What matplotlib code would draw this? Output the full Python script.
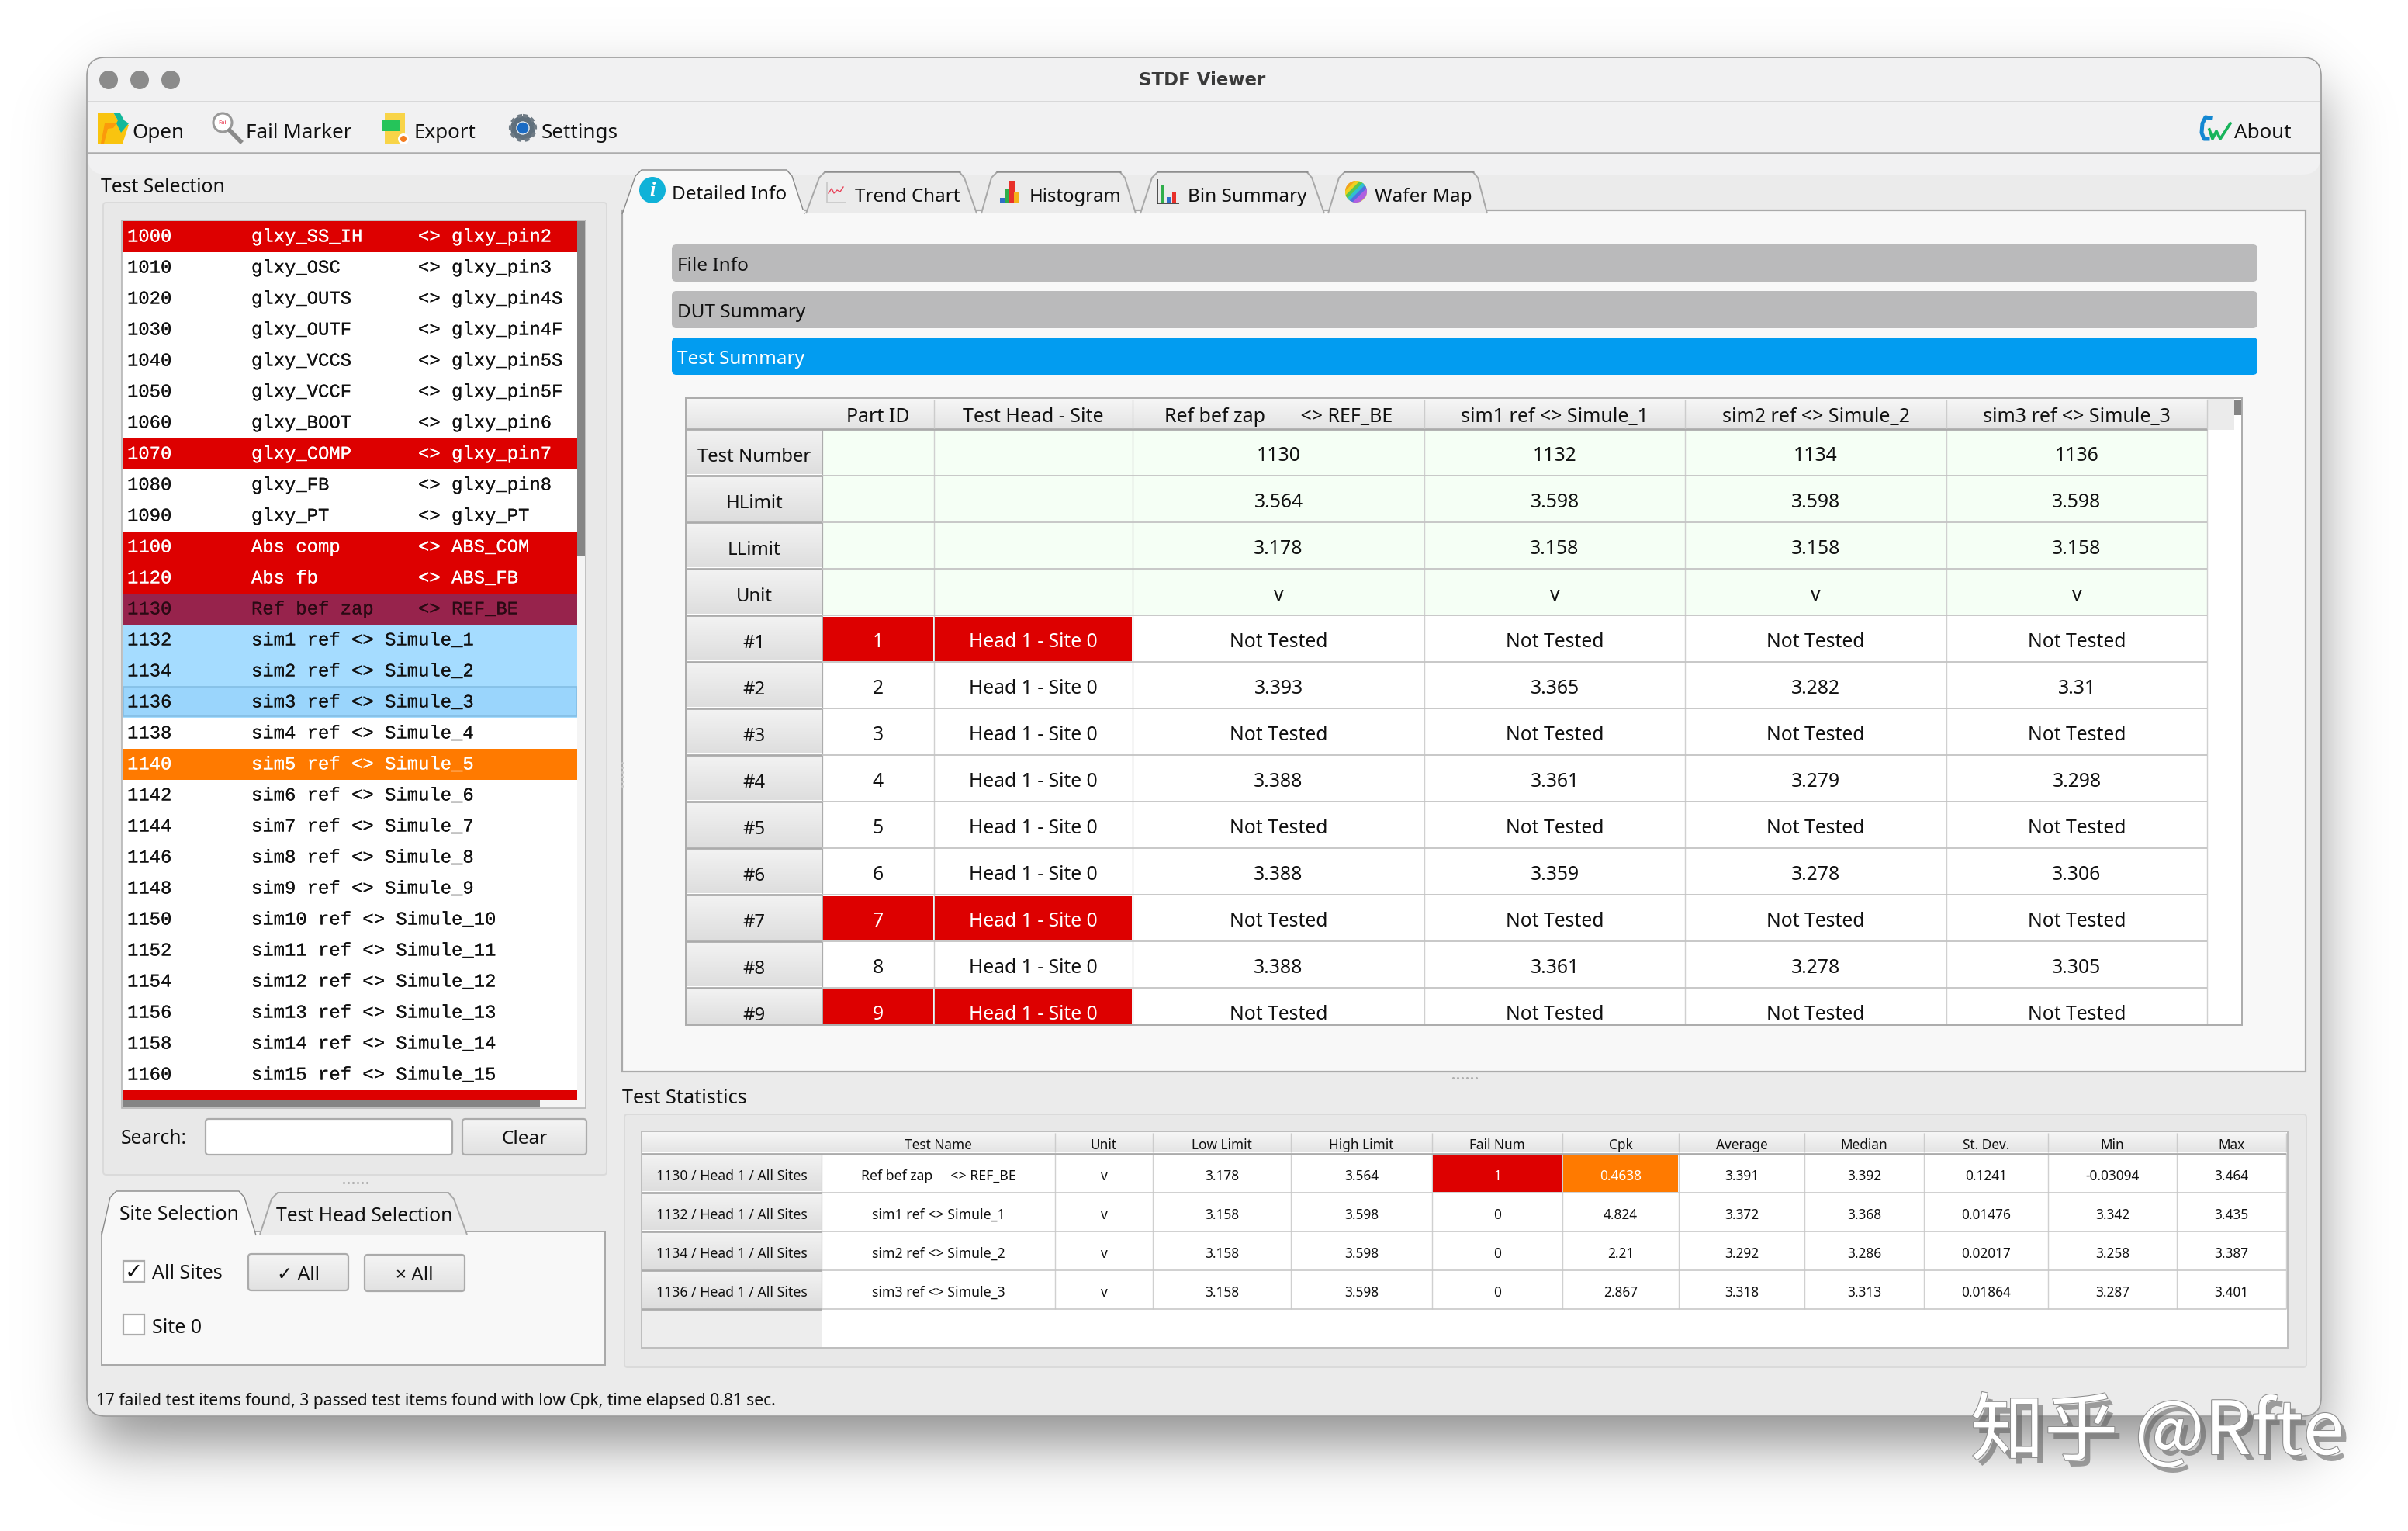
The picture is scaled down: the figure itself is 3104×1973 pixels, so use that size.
import numpy as np
import matplotlib
matplotlib.use("Agg")
import matplotlib.pyplot as plt
from matplotlib.patches import Rectangle, FancyBboxPatch, Polygon, Circle
from matplotlib.colors import LinearSegmentedColormap
import matplotlib.patheffects as pe

plt.rcParams['font.family'] = ['Noto Sans', 'DejaVu Sans']

# ---------- left list
list_ids = [1000, 1010, 1020, 1030, 1040, 1050, 1060, 1070, 1080, 1090, 1100, 1120, 1130,
            1132, 1134, 1136, 1138, 1140, 1142, 1144, 1146, 1148, 1150, 1152, 1154, 1156, 1158, 1160]
list_names = ['glxy_SS_IH     <> glxy_pin2', 'glxy_OSC       <> glxy_pin3', 'glxy_OUTS      <> glxy_pin4S',
              'glxy_OUTF      <> glxy_pin4F', 'glxy_VCCS      <> glxy_pin5S', 'glxy_VCCF      <> glxy_pin5F',
              'glxy_BOOT      <> glxy_pin6', 'glxy_COMP      <> glxy_pin7', 'glxy_FB        <> glxy_pin8',
              'glxy_PT        <> glxy_PT', 'Abs comp       <> ABS_COM', 'Abs fb         <> ABS_FB',
              'Ref bef zap    <> REF_BE', 'sim1 ref <> Simule_1', 'sim2 ref <> Simule_2', 'sim3 ref <> Simule_3',
              'sim4 ref <> Simule_4', 'sim5 ref <> Simule_5', 'sim6 ref <> Simule_6', 'sim7 ref <> Simule_7',
              'sim8 ref <> Simule_8', 'sim9 ref <> Simule_9', 'sim10 ref <> Simule_10', 'sim11 ref <> Simule_11',
              'sim12 ref <> Simule_12', 'sim13 ref <> Simule_13', 'sim14 ref <> Simule_14', 'sim15 ref <> Simule_15']
failed_ids = [1000, 1070, 1100, 1120]
selected_ids = [1132, 1134, 1136]
low_cpk_ids = [1140]
current_id = 1130

# ---------- detail table
detail_cols = ['Part ID', 'Test Head - Site', 'Ref bef zap       <> REF_BE', 'sim1 ref <> Simule_1',
               'sim2 ref <> Simule_2', 'sim3 ref <> Simule_3']
detail_rows = ['Test Number', 'HLimit', 'LLimit', 'Unit', '#1', '#2', '#3', '#4', '#5', '#6', '#7', '#8', '#9']
NT = 'Not Tested'
HS = 'Head 1 - Site 0'
detail_vals = [
    ['', '', '1130', '1132', '1134', '1136'],
    ['', '', '3.564', '3.598', '3.598', '3.598'],
    ['', '', '3.178', '3.158', '3.158', '3.158'],
    ['', '', 'v', 'v', 'v', 'v'],
    ['1', HS, NT, NT, NT, NT],
    ['2', HS, '3.393', '3.365', '3.282', '3.31'],
    ['3', HS, NT, NT, NT, NT],
    ['4', HS, '3.388', '3.361', '3.279', '3.298'],
    ['5', HS, NT, NT, NT, NT],
    ['6', HS, '3.388', '3.359', '3.278', '3.306'],
    ['7', HS, NT, NT, NT, NT],
    ['8', HS, '3.388', '3.361', '3.278', '3.305'],
    ['9', HS, NT, NT, NT, NT],
]
failed_parts = ['#1', '#7', '#9']

# ---------- statistics table
stat_cols = ['Test Name', 'Unit', 'Low Limit', 'High Limit', 'Fail Num', 'Cpk', 'Average', 'Median', 'St. Dev.', 'Min', 'Max']
stat_rows = ['1130 / Head 1 / All Sites', '1132 / Head 1 / All Sites', '1134 / Head 1 / All Sites', '1136 / Head 1 / All Sites']
stat_vals = [
    ['Ref bef zap     <> REF_BE', 'v', '3.178', '3.564', '1', '0.4638', '3.391', '3.392', '0.1241', '-0.03094', '3.464'],
    ['sim1 ref <> Simule_1', 'v', '3.158', '3.598', '0', '4.824', '3.372', '3.368', '0.01476', '3.342', '3.435'],
    ['sim2 ref <> Simule_2', 'v', '3.158', '3.598', '0', '2.21', '3.292', '3.286', '0.02017', '3.258', '3.387'],
    ['sim3 ref <> Simule_3', 'v', '3.158', '3.598', '0', '2.867', '3.318', '3.313', '0.01864', '3.287', '3.401'],
]

RED = '#DD0000'
ORANGE = '#FF7A00'
BLUE = '#029CF0'
LINE = '#A8A8A8'
DARK = '#111111'

fig = plt.figure(figsize=(31.04, 19.74), dpi=100, facecolor='white')
ax = fig.add_axes([0, 0, 1, 1])
ax.set_xlim(0, 3104)
ax.set_ylim(1974, 0)
ax.set_autoscale_on(False)
ax.axis('off')


def rect(x0, y0, x1, y1, fc='none', ec='none', lw=0, z=2):
    ax.add_patch(Rectangle((x0, y0), x1 - x0, y1 - y0, facecolor=fc, edgecolor=ec, linewidth=lw, zorder=z))


def rrect(x0, y0, x1, y1, r=6, fc='none', ec='none', lw=0, z=2):
    ax.add_patch(FancyBboxPatch((x0, y0), x1 - x0, y1 - y0, boxstyle=f'round,pad=0,rounding_size={r}',
                                facecolor=fc, edgecolor=ec, linewidth=lw, zorder=z))


def grad(x0, y0, x1, y1, c0, c1, z=2):
    cmap = LinearSegmentedColormap.from_list('g', [c0, c1])
    ax.imshow(np.linspace(0, 1, 32).reshape(-1, 1), extent=(x0, x1, y1, y0), cmap=cmap, aspect='auto',
              interpolation='bilinear', zorder=z)


def hline(y, x0, x1, c=LINE, lw=1.4, z=3):
    ax.plot([x0, x1], [y, y], color=c, linewidth=lw, zorder=z, solid_capstyle='butt')


def vline(x, y0, y1, c=LINE, lw=1.4, z=3):
    ax.plot([x, x], [y0, y1], color=c, linewidth=lw, zorder=z, solid_capstyle='butt')


def txt(x, y, s, size=18, c=DARK, ha='left', z=6, **kw):
    if not s:
        return None
    return ax.text(x, y + 3, s, fontsize=size, color=c, ha=ha, va='center', zorder=z, **kw)


def mono(x, y, s, c):
    ax.text(x, y, s, fontsize=17.2, color=c, ha='left', va='center', zorder=6, family='Liberation Mono',
            path_effects=[pe.withStroke(linewidth=0.1, foreground=c)])


def tab(x0, x1, x2, x3, top, bottom, fc, ec=LINE, lw=1.4, z=4):
    pts = [(x0, bottom), (x1 - 4, top + 8), (x1 + 4, top), (x2 - 4, top), (x2 + 3, top + 8), (x3, bottom)]
    ax.add_patch(Polygon(pts, closed=False, facecolor=fc, edgecolor=ec, linewidth=lw, zorder=z))


# ---------- window and its shadow
yy, xx = np.mgrid[0:1974:4, 0:3104:4]
sx = 0.5 * (np.tanh((xx - 117) / 45) - np.tanh((xx - 2987) / 45))
sy = 0.5 * (np.tanh((yy - 115) / 45) - np.tanh((yy - 1861) / 45))
shadow = np.zeros(xx.shape + (4,))
shadow[..., 3] = 0.45 * sx * sy
ax.imshow(shadow, extent=(0, 3104, 1974, 0), aspect='auto', zorder=0, interpolation='bilinear')

rrect(112, 75, 2992, 1826, r=24, fc='#EBEBEB', ec='#9C9C9C', lw=1.2, z=1)
ax.add_patch(FancyBboxPatch((113, 76), 2878, 150, boxstyle='round,pad=0,rounding_size=23',
                            facecolor='#F1F1F2', edgecolor='none', zorder=1.2))
rect(113, 150, 2991, 198, fc='#F1F1F2', z=1.3)
hline(132, 113, 2991, c='#D4D4D4', lw=1.2)
hline(198, 113, 2990, c='#ADADAD', lw=1.8)

for cx in [140, 180, 220]:
    ax.add_patch(Circle((cx, 104), 12, facecolor='#8B8B8B', edgecolor='none', zorder=3))
txt(1550, 100, 'STDF Viewer', size=16.5, c='#3A3A3A', ha='center', fontweight='bold', family='DejaVu Sans')

# ---------- toolbar icons and labels
ax.add_patch(Polygon([(126, 186), (126, 146), (146, 146), (152, 156), (166, 162), (158, 186)], facecolor='#F9C40F', zorder=3))
ax.add_patch(Polygon([(130, 186), (135, 160), (150, 160), (146, 166), (139, 167), (134, 186)], facecolor='#FB9A0B', zorder=3))
ax.add_patch(Polygon([(146, 146), (155, 147), (160, 156), (166, 160), (156, 172), (150, 160), (152, 156)], facecolor='#13B89A', zorder=4))
txt(170, 169, 'Open', size=18.7)

ax.add_patch(Circle((287, 159), 12, facecolor='white', edgecolor='#999999', linewidth=2.2, zorder=3))
ax.plot([296, 310], [169, 183], color='#8A8A8A', linewidth=4, zorder=3)
txt(287, 156, 'Fail', size=5.5, c='#E8203A', ha='center', fontweight='bold')
txt(317, 169, 'Fail Marker', size=18.7)

rect(496, 146, 522, 187, fc='#F8D448', z=3)
rect(493, 155, 515, 170, fc='#25C45A', z=4)
ax.add_patch(Circle((520, 180), 7, facecolor='white', zorder=4))
ax.add_patch(Circle((520, 180), 4, facecolor='#F47B20', zorder=5))
txt(534, 169, 'Export', size=18.7)

ax.add_patch(Circle((674, 166), 16, facecolor='#5F6F7C', edgecolor='#6F7B85', linewidth=3, linestyle=(0, (1.4, 1.1)), zorder=3))
ax.add_patch(Circle((674, 166), 8, facecolor='#1A6BC4', edgecolor='#E8EEF2', linewidth=1, zorder=4))
txt(698, 169, 'Settings', size=18.7)

ax.plot([2849, 2843, 2839, 2838, 2841, 2846], [153, 152, 160, 172, 180, 180], color='#1387D2', linewidth=3.6, zorder=3)
ax.plot([2848, 2852, 2857, 2862, 2875], [168, 180, 170, 180, 160], color='#17B45A', linewidth=2.6, zorder=3)
txt(2880, 169, 'About', size=18.7)

# ---------- test selection panel
txt(130, 239, 'Test Selection', size=17.8)
rrect(133, 262, 782, 1515, r=4, fc='#E8E8E8', ec='#DADADA', lw=1.4, z=1.5)
rect(157, 285, 755, 1429, fc='white', ec='#B5B5B5', lw=1.2, z=2)

for k, (tid, name) in enumerate(zip(list_ids, list_names)):
    y0 = 286 + 40 * k
    fg = DARK
    bg = None
    if tid in failed_ids:
        bg, fg = RED, 'white'
    elif tid in selected_ids:
        bg = '#A5DCFF'
    elif tid in low_cpk_ids:
        bg, fg = ORANGE, 'white'
    elif tid == current_id:
        bg, fg = '#97234C', '#2A0A14'
    if bg:
        rect(158, y0, 744, y0 + 40, fc=bg, z=2.5)
    if tid == selected_ids[-1]:
        rect(159, y0, 744, y0 + 38, fc='#9AD5FC', ec='#84BEE4', lw=1.2, z=2.6)
    mono(164, y0 + 20, str(tid), fg)
    mono(324, y0 + 20, name, fg)
rect(158, 1406, 744, 1418, fc=RED, z=2.5)
rect(744, 286, 754, 1428, fc='#F4F4F4', z=3)
rect(744, 286, 754, 718, fc='#858585', z=3.1)
rect(158, 1418, 744, 1428, fc='#F4F4F4', z=3)
rect(158, 1418, 696, 1428, fc='#858585', z=3.1)

txt(156, 1465, 'Search:', size=17.7)
rrect(265, 1443, 583, 1489, r=4, fc='white', ec='#ABABAB', lw=1.6, z=3)
rrect(596, 1443, 756, 1489, r=4, fc='none', ec='#ABABAB', lw=1.6, z=4)
grad(597, 1444, 755, 1488, '#F4F4F4', '#E2E2E2', z=3)
txt(676, 1465, 'Clear', size=17.5, ha='center')

ax.scatter(np.arange(443, 474, 6), [1525] * 6, s=1.5, color='#B0B0B0', zorder=3)
ax.scatter(np.arange(1873, 1904, 6), [1390] * 6, s=1.5, color='#B0B0B0', zorder=3)
ax.scatter([802] * 6, np.arange(984, 1015, 6), s=1.5, color='#C8C8C8', zorder=3)

# ---------- site selection panel
rect(131, 1588, 780, 1760, fc='#F8F8F8', ec=LINE, lw=1.4, z=2)
tab(335, 354, 582, 602, 1538, 1592, '#EBEBEB', z=3)
tab(131, 146, 312, 330, 1536, 1593, '#F8F8F8', ec='#888888', lw=1.0, z=3.2)
txt(154, 1563, 'Site Selection', size=17.8)
txt(356, 1565, 'Test Head Selection', size=17.8)
rect(159, 1626, 186, 1653, fc='white', ec='#ABABAB', lw=1.6, z=4)
rect(159, 1695, 186, 1721, fc='white', ec='#ABABAB', lw=1.6, z=4)
txt(172.5, 1637, '✓', size=20, ha='center', family='DejaVu Sans')
txt(196, 1638, 'All Sites', size=18)
txt(196, 1708, 'Site 0', size=18)
for x0, x1, y0, label in [(320, 449, 1617, '✓ All'), (470, 599, 1618, '× All')]:
    rrect(x0, y0, x1, y0 + 47, r=4, ec='#ABABAB', lw=1.6, z=4)
    grad(x0 + 1, y0 + 1, x1 - 1, y0 + 46, '#F4F4F4', '#E2E2E2', z=3)
    txt((x0 + x1) / 2, y0 + 23, label, size=17.5, ha='center', family=['Noto Sans', 'DejaVu Sans'])

txt(124, 1802, '17 failed test items found, 3 passed test items found with low Cpk, time elapsed 0.81 sec.', size=15.1)

# ---------- main tab pane
rect(802, 272, 2972, 1382, fc='#F8F8F8', ec='#AAAAAA', lw=1.6, z=1.6)
tabs = [(1039, 1060, 1240, 1259), (1265, 1282, 1447, 1464), (1470, 1489, 1688, 1707), (1712, 1730, 1902, 1917)]
for t in tabs:
    tab(*t, 222, 276, '#EBEBEB', z=2)
    hline(222, t[1] + 2, t[2] - 2, c='#8E8E8E', lw=1.8, z=2.1)
tab(802, 823, 1018, 1037, 220, 277, '#F8F8F8', ec='#888888', lw=1.0, z=2.2)
rect(804, 272, 1036, 278, fc='#F8F8F8', z=2.25)
txt(866, 248, 'Detailed Info', size=17.5)
txt(1102, 251, 'Trend Chart', size=17.4)
txt(1327, 251, 'Histogram', size=17.2)
txt(1531, 251, 'Bin Summary', size=17.5)
txt(1772, 251, 'Wafer Map', size=17.5)

# tab icons
ax.add_patch(Circle((841, 246), 17, facecolor='#10B2D8', zorder=3))
txt(841, 243, 'i', size=19, c='white', ha='center', family='Liberation Serif', fontweight='bold', style='italic')
vline(1066, 236, 263, c='#C8C8C8', lw=1.2)
hline(262, 1066, 1090, c='#C8C8C8', lw=1.2)
ax.plot([1068, 1072, 1075, 1079, 1083, 1087], [250, 244, 250, 246, 248, 242], color='#E8445A', linewidth=1, zorder=3)
for bx, by, bc in [(1289, 256, '#2F6FC8'), (1295, 244, '#2FAE4A'), (1301, 234, '#E8302A'), (1307, 248, '#F3B21A')]:
    rect(bx, by, bx + 7, 263, fc=bc, z=3)
vline(1492, 232, 264, c='#333333', lw=1.2)
hline(263, 1492, 1520, c='#333333', lw=1.2)
for bx, by, bc in [(1496, 240, '#2FAE4A'), (1504, 255, '#2F6FC8'), (1511, 248, '#E8302A')]:
    rect(bx, by, bx + 5, 263, fc=bc, z=3)
wafer = Circle((1748, 248), 14, facecolor='#E8E030', zorder=3, transform=ax.transData)
ax.add_patch(wafer)
for off, c in zip([-16, -10, -4, 2, 8, 14], ['#F3A01E', '#F0D020', '#58C850', '#30C0D0', '#5070E0', '#B060E0']):
    ln, = ax.plot([1748 - 20 + off, 1748 + 20 + off], [248 + 20, 248 - 20], color=c, linewidth=5, zorder=3.1)
    ln.set_clip_path(wafer)

# accordion buttons
for y0, label, bg, fg in [(316, 'File Info', '#BABABB', DARK), (376, 'DUT Summary', '#BABABB', DARK), (436, 'Test Summary', BLUE, 'white')]:
    rrect(866, y0, 2910, y0 + 48, r=6, fc=bg, z=2)
    txt(873, y0 + 24, label, size=17.5, c=fg)

# ---------- detail table
det_edges = [1060, 1204, 1460, 1836, 2172, 2509, 2845]
row_h = 60
rect(884, 514, 2890, 1322, fc='white', z=2)
grad(884, 515, 2845, 553, '#F6F6F6', '#E4E4E4', z=2.1)
rect(2845, 515, 2880, 555, fc='#EBEBEB', z=2.1)
hline(554, 884, 2845, c='#ABABAB', lw=2.0)
for k, name in enumerate(detail_cols):
    x0, x1 = det_edges[k], det_edges[k + 1]
    vline(x1, 516, 553, c='#CCCCCC', lw=1.0)
    txt((x0 + x1) / 2, 535, name, size=18, ha='center')

for r, name in enumerate(detail_rows):
    y0 = 554 + r * row_h
    y1 = min(y0 + row_h, 1322)
    grad(884, y0 + 2, 1060, y1 - 2, '#F2F2F2', '#DEDEDE', z=2.2)
    txt(972, y0 + 32, name, size=17.2, ha='center')
    if r < 4:
        rect(1060, y0, 2845, y1, fc='#F5FFF5', z=2.1)
    if y0 + row_h <= 1322:
        hline(y1, 884, 1060, c='#ABABAB', lw=2.0)
        hline(y1, 1060, 2845, c='#C4C4C4', lw=1.3)
    for c, val in enumerate(detail_vals[r]):
        x0, x1 = det_edges[c], det_edges[c + 1]
        fg = DARK
        if name in failed_parts and c < 2:
            rect(x0 + 1, y0 + 2, x1 - 1, y1 - 1, fc=RED, z=2.3)
            fg = 'white'
        txt((x0 + x1) / 2, y0 + 30, val, size=17.8, c=fg, ha='center')
for x in det_edges:
    vline(x, 554, 1322, c='#D0D0D0', lw=1.0, z=2.25)
vline(1060, 554, 1322, c='#ABABAB', lw=1.4, z=2.4)
rect(2880, 516, 2890, 1322, fc='white', z=2.5)
rect(2880, 516, 2890, 536, fc='#858585', z=2.6)
rect(884, 514, 2890, 1322, ec='#ABABAB', lw=1.4, z=3)

# ---------- statistics panel
txt(802, 1413, 'Test Statistics', size=18.2)
rrect(805, 1437, 2973, 1763, r=4, fc='#E8E8E8', ec='#DADADA', lw=1.4, z=1.5)
stat_edges = [1059, 1360, 1486, 1664, 1846, 2014, 2164, 2326, 2480, 2640, 2806, 2947]
rect(827, 1459, 2949, 1738, fc='white', z=2)
grad(827, 1460, 2947, 1486, '#F6F6F6', '#E4E4E4', z=2.1)
hline(1488, 827, 2947, c='#ABABAB', lw=2.0)
rect(827, 1688, 1059, 1738, fc='#EDEDED', z=2.1)
for k, name in enumerate(stat_cols):
    x0, x1 = stat_edges[k], stat_edges[k + 1]
    vline(x1, 1461, 1486, c='#CCCCCC', lw=1.0)
    txt((x0 + x1) / 2, 1473, name, size=12.4, ha='center')

for r, name in enumerate(stat_rows):
    y0 = 1488 + r * 50
    y1 = y0 + 50
    grad(827, y0 + 2, 1059, y1 - 2, '#F2F2F2', '#DEDEDE', z=2.2)
    hline(y1, 827, 1059, c='#ABABAB', lw=2.0)
    hline(y1, 1059, 2947, c='#C8C8C8', lw=1.2)
    txt(943, y0 + 25, name, size=12.7, ha='center')
    for c, val in enumerate(stat_vals[r]):
        x0, x1 = stat_edges[c], stat_edges[c + 1]
        fg = DARK
        if stat_cols[c] == 'Fail Num' and val != '0':
            rect(x0 + 1, y0 + 2, x1 - 1, y1 - 1, fc=RED, z=2.3)
            fg = 'white'
        if stat_cols[c] == 'Cpk' and float(val) < 1.33:
            rect(x0 + 1, y0 + 2, x1 - 1, y1 - 1, fc=ORANGE, z=2.3)
            fg = 'white'
        txt((x0 + x1) / 2, y0 + 25, val, size=12.7 if c == 0 else 12.4, c=fg, ha='center')
for x in stat_edges:
    vline(x, 1488, 1688, c='#D0D0D0', lw=1.0, z=2.25)
rect(827, 1459, 2949, 1738, ec='#BDBDBD', lw=1.4, z=3)

# ---------- watermark
ax.text(2540, 1848, '知乎 @Rfte', fontsize=68.5, color='white', ha='left', va='center', zorder=8,
        family=['Noto Sans CJK SC', 'DejaVu Sans'],
        path_effects=[pe.withStroke(linewidth=1.5, foreground='#8C8C8C')])
ax.text(2547, 1855, '知乎 @Rfte', fontsize=68.5, color='#5A5A5A', alpha=0.55, ha='left', va='center', zorder=7,
        family=['Noto Sans CJK SC', 'DejaVu Sans'])

fig.savefig('out.png', dpi=100)
